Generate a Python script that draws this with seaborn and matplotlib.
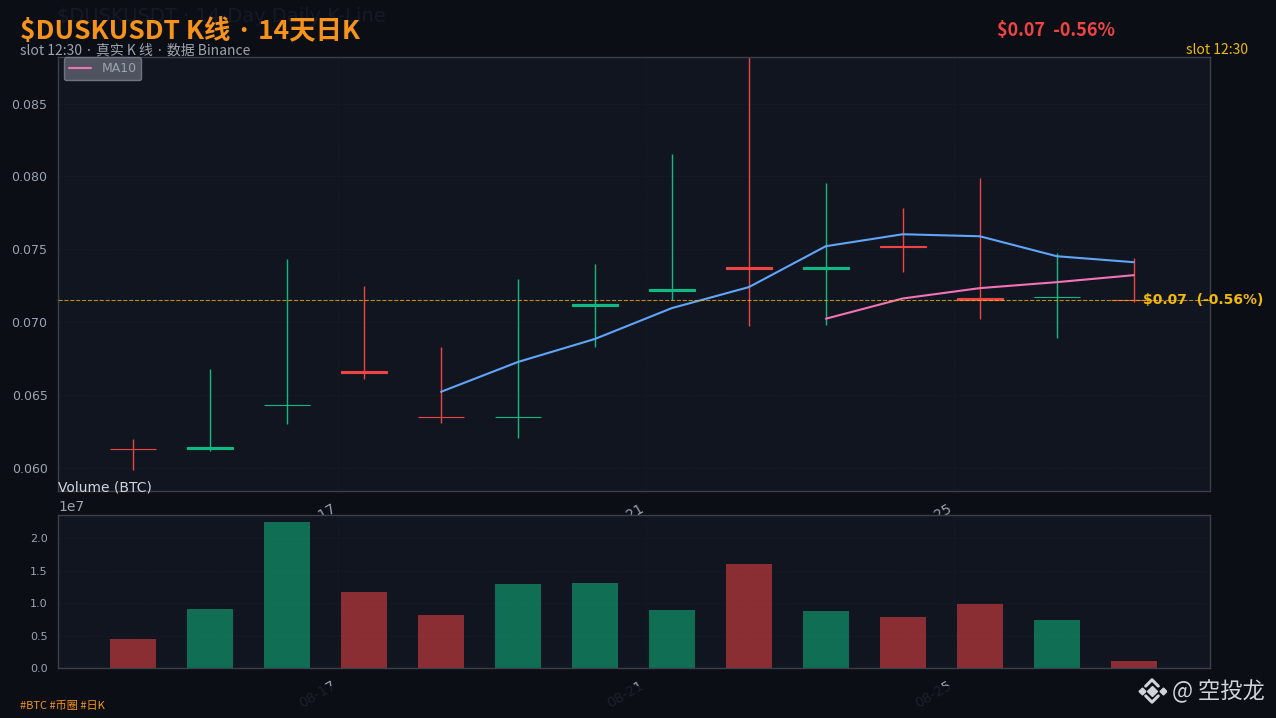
"""
DUSKUSDT 14-day daily K-line with MA and volume panel.
"""
import matplotlib
matplotlib.use('Agg')
import matplotlib.pyplot as plt
import matplotlib.dates as mdates
from matplotlib.patches import Rectangle
import numpy as np
import pandas as pd
import seaborn as sns

# --- data --- #
days = pd.date_range('2025-08-14 08:00', periods=14, freq='D')
opens = [0.06129, 0.06130, 0.06429, 0.06667, 0.06348, 0.06349, 0.07108,
         0.07213, 0.07378, 0.07362, 0.07519, 0.07167, 0.07169, 0.07151]
closes = [0.06128, 0.06145, 0.06430, 0.06650, 0.06347, 0.06350, 0.07124,
          0.07229, 0.07362, 0.07378, 0.07518, 0.07151, 0.07170, 0.07150]
highs = [0.06199, 0.06678, 0.07432, 0.07247, 0.06829, 0.07295, 0.07397,
         0.08151, 0.08900, 0.07952, 0.07781, 0.07986, 0.07473, 0.07438]
lows = [0.05982, 0.06112, 0.06297, 0.06612, 0.06310, 0.06205, 0.06831,
        0.07151, 0.06975, 0.06979, 0.07345, 0.07018, 0.06892, 0.07135]
ma5 = [np.nan, np.nan, np.nan, np.nan, 0.06521, 0.06726, 0.06884,
       0.07096, 0.07240, 0.07521, 0.07603, 0.07589, 0.07452, 0.07411]
ma10 = [np.nan] * 9 + [0.07023, 0.07162, 0.07233, 0.07274, 0.07322]
volumes = [0.447e7, 0.910e7, 2.251e7, 1.172e7, 0.817e7, 1.295e7, 1.311e7,
           0.894e7, 1.604e7, 0.879e7, 0.786e7, 0.987e7, 0.740e7, 0.108e7]
last_price = 0.07151
price_label = '$0.07  (-0.56%)'

# --- colours --- #
BG = '#0b0e15'
AX_BG = '#111520'
UP = '#10b981'
DOWN = '#ef4444'
GOLD = '#f0b90b'
ORANGE = '#f7931a'
GREY = '#9ca3af'
SPINE = '#3a3f4b'
CJK = ['Noto Sans CJK JP', 'DejaVu Sans']

sns.set_theme(style='dark')
plt.rcParams['font.family'] = ['DejaVu Sans', 'Noto Sans CJK SC']
plt.rcParams['axes.unicode_minus'] = False

x = mdates.date2num(days.to_pydatetime())
o = np.array(opens)
c = np.array(closes)
colors = [UP if cc >= oo else DOWN for oo, cc in zip(o, c)]

fig = plt.figure(figsize=(12.76, 7.18), dpi=100, facecolor=BG)
ax = fig.add_axes([58 / 1276, 1 - 491 / 718, 1152 / 1276, 434 / 718])
ax2 = fig.add_axes([58 / 1276, 1 - 668 / 718, 1152 / 1276, 153 / 718])

for a in (ax, ax2):
    a.set_facecolor(AX_BG)
    for s in a.spines.values():
        s.set_color(SPINE)
        s.set_linewidth(1)
    a.tick_params(colors=GREY, labelsize=9, length=4, width=0.8)
    a.grid(True, color='#171b27', linestyle='--', linewidth=0.6)
    a.xaxis.set_major_locator(mdates.DayLocator(bymonthday=[17, 21, 25]))
    a.xaxis.set_major_formatter(mdates.DateFormatter('%m-%d'))
    a.set_xlim(x[0] - 0.975, x[-1] + 0.99)
    for lbl in a.get_xticklabels():
        lbl.set_rotation(30)
        lbl.set_ha('right')
        lbl.set_fontsize(10)
        lbl.set_color(GREY)

# --- candles --- #
ax.vlines(x, lows, highs, colors=colors, linewidth=1, zorder=2)
ax.bar(x, np.abs(c - o), width=0.6, bottom=np.minimum(o, c),
       color=colors, edgecolor=colors, linewidth=0.8, zorder=3)

# --- moving averages --- #
ma_df = pd.DataFrame({'x': x, 'ma5': ma5, 'ma10': ma10})
sns.lineplot(data=ma_df, x='x', y='ma5', ax=ax, color='#60a5fa',
             linewidth=1.5, label='_nolegend_', zorder=4)
sns.lineplot(data=ma_df, x='x', y='ma10', ax=ax, color='#f472b6',
             linewidth=1.5, label='MA10', zorder=4)
ax.set_xlabel('')
ax.set_ylabel('')
ax.set_ylim(0.0584, 0.0882)
ax.set_yticks([0.060, 0.065, 0.070, 0.075, 0.080, 0.085])
ax.yaxis.set_major_formatter(matplotlib.ticker.FormatStrFormatter('%.3f'))

leg = ax.legend(loc='upper left', bbox_to_anchor=(0.005, 1.0),
                borderaxespad=0, fontsize=9, frameon=True, fancybox=True,
                handlelength=1.8)
leg.get_frame().set_facecolor('#5a5f6b')
leg.get_frame().set_edgecolor('#7a7f8a')
leg.get_frame().set_alpha(0.85)
for t in leg.get_texts():
    t.set_color(GREY)

# current price line
ax.axhline(last_price, color=GOLD, linestyle='--', linewidth=0.8,
           alpha=0.75, zorder=5)
ax.text(x[-1] + 0.12, last_price, price_label, color=GOLD, fontsize=10,
        fontweight='bold', va='center', ha='left', clip_on=False, zorder=6)

# --- volume --- #
ax2.bar(x, volumes, width=0.6, color=colors, alpha=0.55,
        edgecolor='none', linewidth=0, zorder=2)
ax2.set_ylim(0, 2.36e7)
ax2.set_yticks([0, 0.5e7, 1.0e7, 1.5e7, 2.0e7])
ax2.tick_params(axis='y', labelsize=8)
ax2.yaxis.get_offset_text().set_color(GREY)
ax2.yaxis.get_offset_text().set_fontsize(10)
ax2.text(0, 1.183, 'Volume (BTC)', transform=ax2.transAxes, ha='left',
         va='center', fontsize=10, color='#d1d5db')

# --- header / footer texts --- #
fig.text(57 / 1276, 1 - 17 / 718, '$DUSKUSDT · 14-Day Daily K-Line',
         color='#151a25', fontsize=14, va='center', ha='left')
fig.text(20 / 1276, 1 - 32 / 718, '$DUSKUSDT K线 · 14天日K', color=ORANGE,
         fontsize=19, fontweight='bold', family=CJK, va='center', ha='left')
fig.text(20 / 1276, 1 - 50 / 718, 'slot 12:30 · 真实 K 线 · 数据 Binance',
         color=GREY, fontsize=10, family=CJK, va='center', ha='left')
fig.text(997 / 1276, 1 - 30 / 718, '$0.07  -0.56%', color=DOWN,
         fontsize=13, fontweight='bold', family=CJK, va='center', ha='left')
fig.text(1248 / 1276, 1 - 50 / 718, 'slot 12:30', color=GOLD,
         fontsize=10, family=CJK, va='center', ha='right')

# footer band covering bottom tick labels
fig.add_artist(Rectangle((0, 0), 1, 32 / 718, transform=fig.transFigure,
                         facecolor=BG, alpha=0.88, edgecolor='none', zorder=5))
fig.text(20 / 1276, 1 - 706 / 718, '#BTC #币圈 #日K', color=ORANGE,
         fontsize=8, family=CJK, va='center', ha='left', zorder=6)
fig.text(1172 / 1276, 1 - 691 / 718, '@ 空投龙', color='#d1d5db',
         fontsize=16, family=CJK, va='center', ha='left', zorder=6)

# little exchange logo
lg = fig.add_axes([1138 / 1276, 1 - 705 / 718, 28 / 1276, 28 / 718], zorder=6)
lg.set_xlim(-1, 1)
lg.set_ylim(-1, 1)
lg.axis('off')
lg.plot([0], [0], marker='D', markersize=5, color='#d1d5db', linestyle='none')
lg.plot([-0.75, 0.75], [0, 0], marker='D', markersize=3.5, color='#d1d5db',
        linestyle='none')
lg.plot([-0.45, 0, 0.45], [0.35, 0.8, 0.35], color='#d1d5db', linewidth=2.2)
lg.plot([-0.45, 0, 0.45], [-0.35, -0.8, -0.35], color='#d1d5db', linewidth=2.2)

fig.savefig('out.png', dpi=100, facecolor=BG)
